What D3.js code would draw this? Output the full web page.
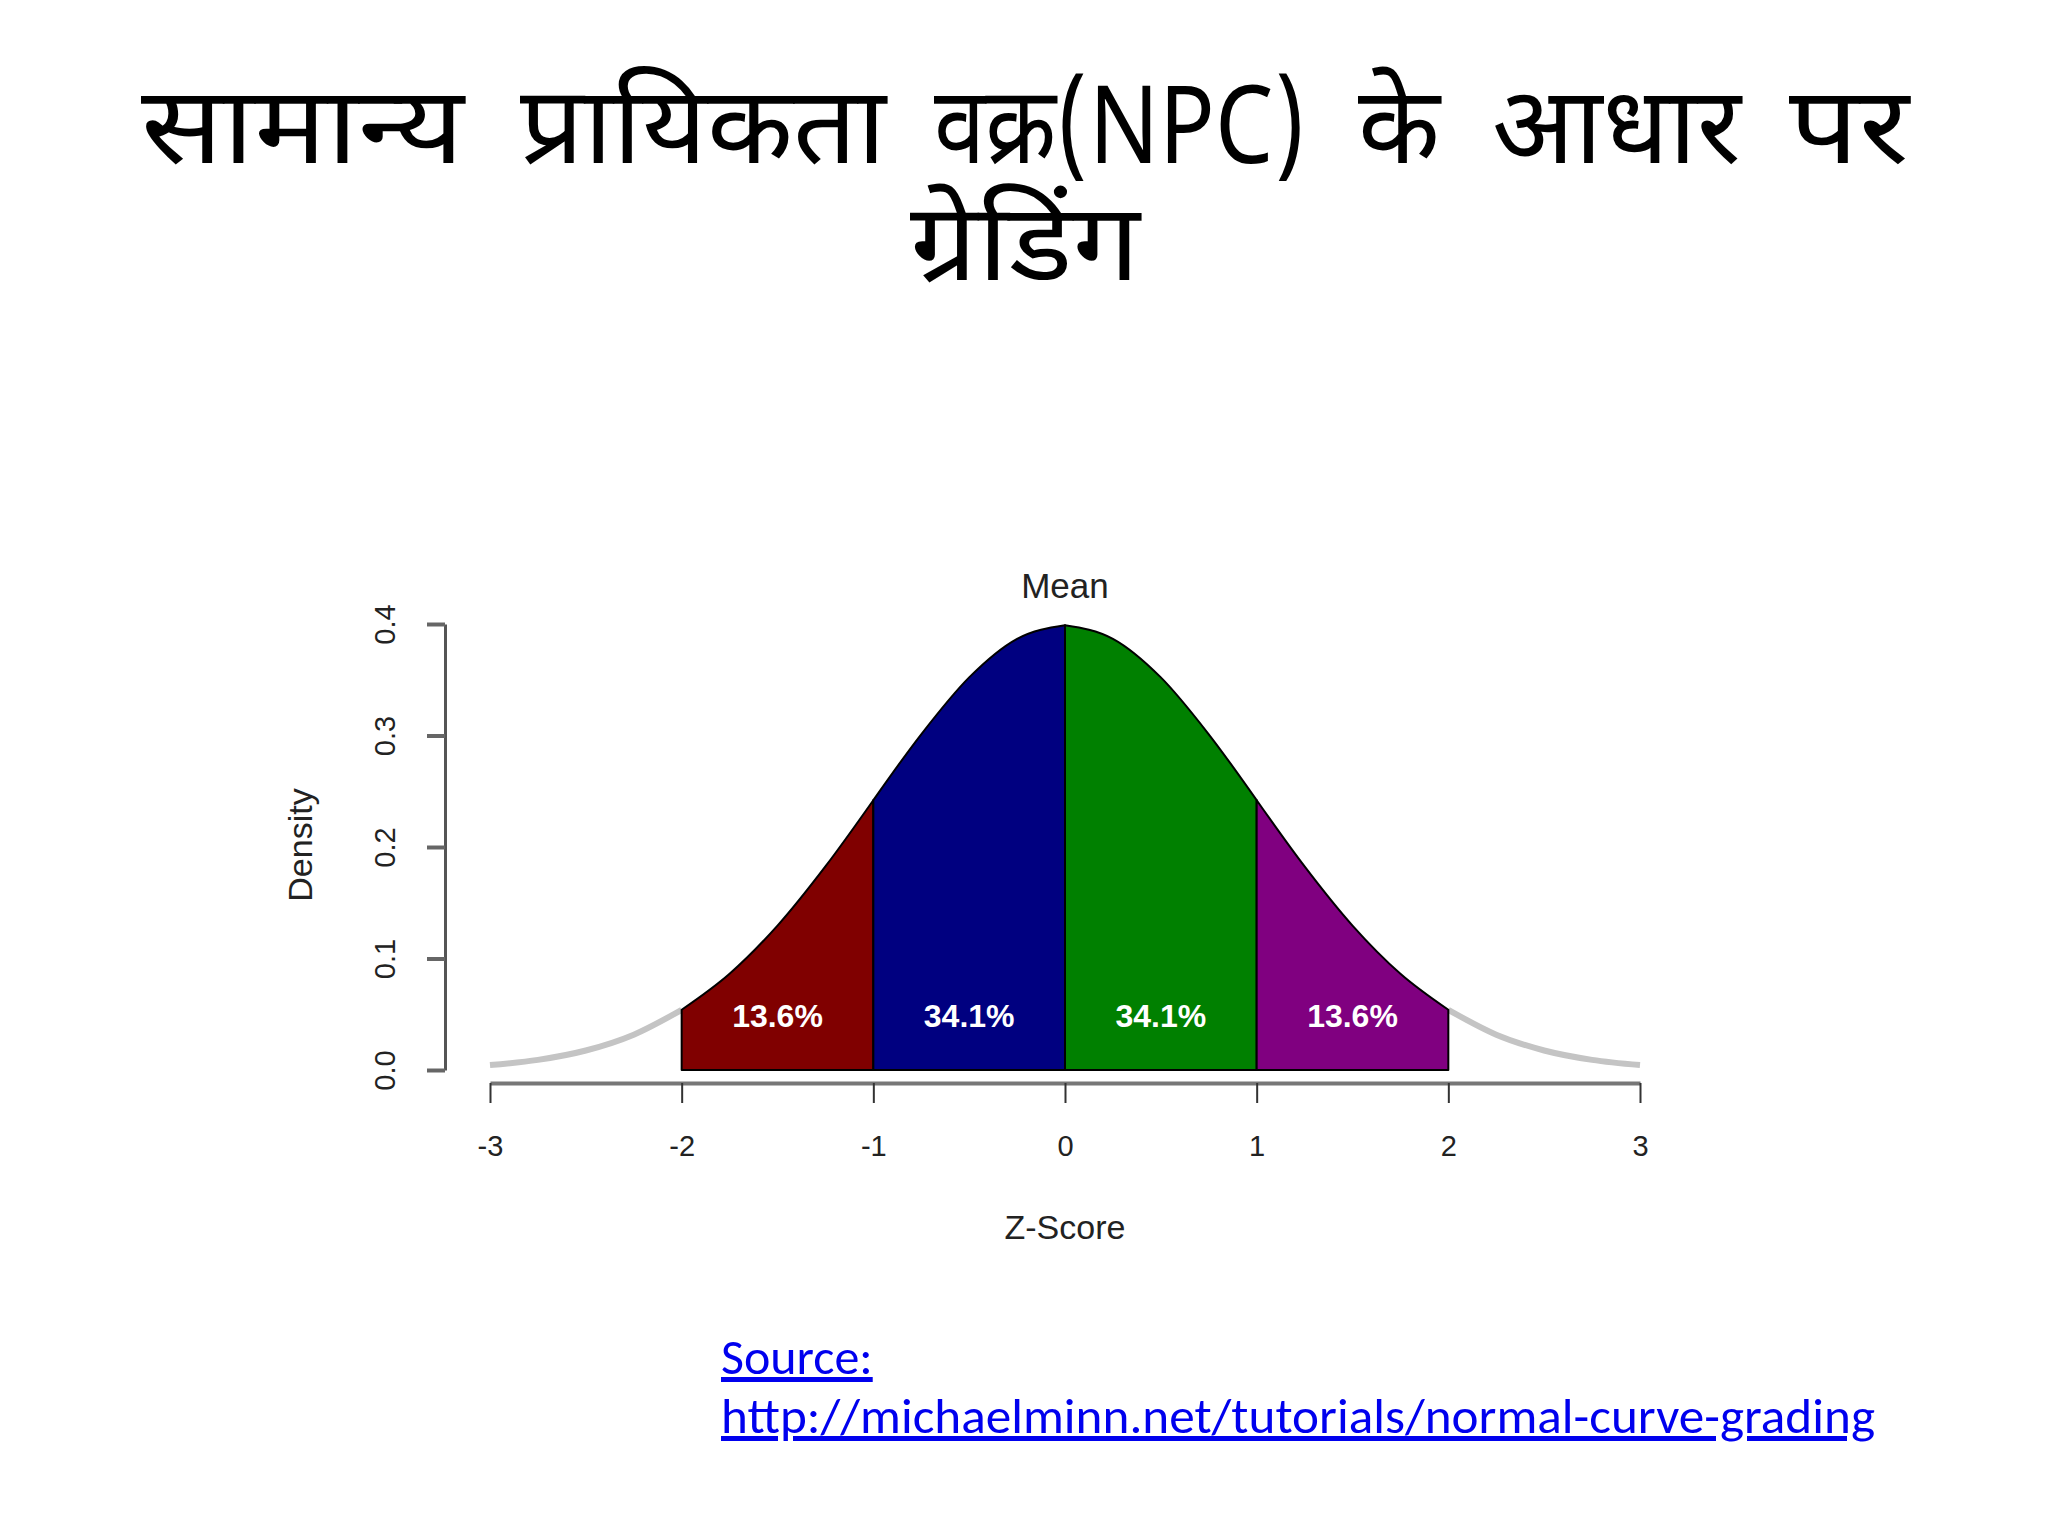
<!DOCTYPE html>
<html>
<head>
<meta charset="utf-8">
<script src="https://d3js.org/d3.v7.min.js"></script>
<style>
  body { margin: 0; background: #fff; }
  svg { display: block; }
  .chart text { font-family: "Liberation Sans Narrow", "Liberation Sans", Arial, sans-serif; }
</style>
</head>
<body>
<div id="slide"></div>
<script>
// title words (line 1 is justified across the slide)
var titleLine1 = ["सामान्य", "प्रायिकता", "वक्र(NPC)", "के", "आधार", "पर"];
var titleLine2 = "ग्रेडिंग";

// normal curve at steps of 0.25
var zValues = [-3, -2.75, -2.5, -2.25, -2, -1.75, -1.5, -1.25, -1, -0.75, -0.5, -0.25, 0,
               0.25, 0.5, 0.75, 1, 1.25, 1.5, 1.75, 2, 2.25, 2.5, 2.75, 3];
var density = [0.0044, 0.0091, 0.0175, 0.0317, 0.054, 0.0863, 0.1295, 0.1826, 0.242, 0.3011, 0.3521, 0.3867, 0.3989,
               0.3867, 0.3521, 0.3011, 0.242, 0.1826, 0.1295, 0.0863, 0.054, 0.0317, 0.0175, 0.0091, 0.0044];

// shaded bands
var bandFrom = [-2, -1, 0, 1];
var bandTo = [-1, 0, 1, 2];
var bandLabels = ["13.6%", "34.1%", "34.1%", "13.6%"];
var bandColors = ["#800000", "#000080", "#008000", "#800080"];

var xTicks = [-3, -2, -1, 0, 1, 2, 3];
var yTicks = [0, 0.1, 0.2, 0.3, 0.4];

var sourceLines = ["Source:", "http://michaelminn.net/tutorials/normal-curve-grading"];

var data = zValues.map(function(z, i) { return {z: z, d: density[i]}; });

var svg = d3.select("#slide").append("svg")
    .attr("width", 2048)
    .attr("height", 1536);

// ---- title
var titleFont = '"Noto Sans Devanagari", "Lohit Devanagari", "Mangal", "Noto Sans", sans-serif';
// left edge and width of each title word on the slide
var wordLeft = [141, 520, 934, 1358, 1492, 1789];
var wordWidth = [323, 366, 372, 82, 249, 120];

svg.append("g").selectAll("text")
  .data(titleLine1)
  .enter().append("text")
    .attr("x", function(d, i) { return wordLeft[i]; })
    .attr("y", 163)
    .attr("textLength", function(d, i) { return wordWidth[i]; })
    .attr("lengthAdjust", "spacingAndGlyphs")
    .style("font-family", titleFont)
    .style("font-size", "108px")
    .attr("fill", "#000")
    .text(function(d) { return d; });

svg.append("text")
  .attr("x", 910)
  .attr("y", 280)
  .attr("textLength", 230)
  .attr("lengthAdjust", "spacingAndGlyphs")
  .style("font-family", titleFont)
  .style("font-size", "108px")
  .text(titleLine2);

// ---- chart
var chart = svg.append("g").attr("class", "chart");

var x = d3.scaleLinear().domain([-3, 3]).range([490, 1640]);
var y = d3.scaleLinear().domain([0, 0.4]).range([1070, 624]);

// grey tails
var line = d3.line()
  .x(function(d) { return x(d.z); })
  .y(function(d) { return y(d.d); })
  .curve(d3.curveMonotoneX);

chart.append("path")
  .datum(data.filter(function(d) { return d.z <= -2; }))
  .attr("fill", "none")
  .attr("stroke", "#c4c4c4")
  .attr("stroke-width", 6)
  .attr("d", line);

chart.append("path")
  .datum(data.filter(function(d) { return d.z >= 2; }))
  .attr("fill", "none")
  .attr("stroke", "#c4c4c4")
  .attr("stroke-width", 6)
  .attr("d", line);

// coloured bands
var area = d3.area()
  .x(function(d) { return x(d.z); })
  .y0(y(0))
  .y1(function(d) { return y(d.d); })
  .curve(d3.curveMonotoneX);

bandFrom.forEach(function(lo, i) {
  var hi = bandTo[i];
  chart.append("path")
    .datum(data.filter(function(d) { return d.z >= lo && d.z <= hi; }))
    .attr("fill", bandColors[i])
    .attr("stroke", "#000")
    .attr("stroke-width", 2)
    .attr("stroke-linejoin", "round")
    .attr("d", area);

  chart.append("text")
    .attr("x", x((lo + hi) / 2))
    .attr("y", y(0.039))
    .attr("text-anchor", "middle")
    .attr("fill", "#fff")
    .style("font-weight", "bold")
    .style("font-size", "32px")
    .text(bandLabels[i]);
});

// axes
var xAxis = chart.append("g")
  .attr("transform", "translate(0,1083)")
  .call(d3.axisBottom(x).tickValues(xTicks).tickSize(20).tickSizeOuter(0).tickPadding(32)
        .tickFormat(function(d) { return String(d); }));
xAxis.select(".domain").attr("stroke", "#777").attr("stroke-width", 4);
xAxis.selectAll(".tick line").attr("stroke", "#333").attr("stroke-width", 2);
xAxis.selectAll(".tick text")
  .attr("fill", "#222")
  .style("font-size", "29px")
  .style("font-family", '"Liberation Sans Narrow", "Liberation Sans", Arial, sans-serif');

var yAxis = chart.append("g")
  .attr("transform", "translate(445,0)")
  .call(d3.axisLeft(y).tickValues(yTicks).tickSize(18).tickSizeOuter(0)
        .tickFormat(d3.format(".1f")));
yAxis.select(".domain").attr("stroke", "#555").attr("stroke-width", 3);
yAxis.selectAll(".tick line").attr("stroke", "#666").attr("stroke-width", 4);
yAxis.selectAll(".tick text")
  .attr("x", 0)
  .attr("dy", null)
  .attr("text-anchor", "middle")
  .attr("transform", "translate(-50,0) rotate(-90)")
  .attr("fill", "#222")
  .style("font-size", "29px")
  .style("font-family", '"Liberation Sans Narrow", "Liberation Sans", Arial, sans-serif');

// axis titles
chart.append("text")
  .attr("transform", "translate(312,845) rotate(-90)")
  .attr("text-anchor", "middle")
  .attr("fill", "#222")
  .style("font-size", "34px")
  .text("Density");

chart.append("text")
  .attr("x", x(0))
  .attr("y", 1239)
  .attr("text-anchor", "middle")
  .attr("fill", "#222")
  .style("font-size", "34px")
  .text("Z-Score");

chart.append("text")
  .attr("x", x(0))
  .attr("y", 598)
  .attr("text-anchor", "middle")
  .attr("fill", "#222")
  .style("font-size", "35px")
  .text("Mean");

// ---- source link
var src = svg.append("g")
  .style("font-family", '"Carlito", "Lato", "Open Sans", sans-serif')
  .style("font-size", "50px")
  .attr("fill", "#0000ee");

src.append("text")
  .attr("x", 721)
  .attr("y", 1374)
  .style("text-decoration", "underline")
  .text(sourceLines[0]);

src.append("text")
  .attr("x", 721)
  .attr("y", 1433)
  .attr("textLength", 1154)
  .attr("lengthAdjust", "spacingAndGlyphs")
  .style("text-decoration", "underline")
  .text(sourceLines[1]);
</script>
</body>
</html>
